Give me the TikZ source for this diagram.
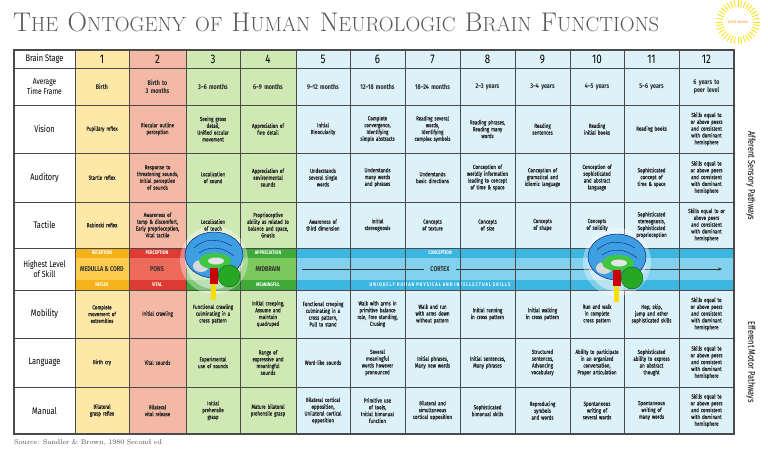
\documentclass[tikz,border=0pt]{standalone}
\usepackage{fontspec}
\setmainfont{Fira Sans}[FakeStretch=0.78]
\newfontfamily\cellfont{Fira Sans}[FakeStretch=0.76, FakeBold=0.5]
\newfontfamily\titlefont{Latin Modern Roman}
\usetikzlibrary{arrows.meta}

\definecolor{cYel}{HTML}{FDE8A8}
\definecolor{cSal}{HTML}{F3B9A5}
\definecolor{cGrn}{HTML}{CFE8B4}
\definecolor{cBlu}{HTML}{DDF1F8}
\definecolor{bOrD}{HTML}{F6B21B}
\definecolor{bOrL}{HTML}{FDCB4E}
\definecolor{bReD}{HTML}{DE3B34}
\definecolor{bReL}{HTML}{EE6A5A}
\definecolor{bGrD}{HTML}{3FAA3A}
\definecolor{bGrL}{HTML}{7CC85C}
\definecolor{bBlD}{HTML}{3CB6E0}
\definecolor{bBlL}{HTML}{82D2EF}
\definecolor{gridc}{HTML}{4A4A4A}
\definecolor{brBlue}{HTML}{3D9FE0}

\tikzset{
  cell/.style={align=center, font=\cellfont\fontsize{5.9}{6.8}\selectfont, text=black!85, text width=#1, inner sep=0pt},
  cell/.default=52pt,
  rowlab/.style={align=center, font=\fontsize{9.5}{10.5}\selectfont, inner sep=0pt},
  band/.style={font=\fontsize{5.2}{5.5}\selectfont\bfseries, text=white, inner sep=0pt},
  bandmid/.style={font=\fontsize{7}{7.5}\selectfont\bfseries, text=black!80, inner sep=0pt},
  gridline/.style={draw=gridc, line width=0.8pt}
}

\def\xs{{14,75,129,186,240,296,350,405,460,515,570,624,679,734}}
\def\xmid{{44.5,102,157.5,213,268,323,377.5,432.5,487.5,542.5,597,651.5,706.5}}
\def\ys{{50,68,105,153,202,248,290,338,387,434}}

% title word: big initial, small capitals after it
\newcommand\tw[2]{{\fontsize{27}{27}\selectfont #1}{\fontsize{20.5}{20.5}\selectfont #2}\hspace{6pt}}

% brain sketch at a centre point
\newcommand\brainpic[2]{%
  \begin{scope}[shift={(#1,#2)}]
    \fill[white, opacity=0.35] (0,4) circle (34);
    \fill[white, opacity=0.45] (0,4) circle (29);
    \fill[yellow!80!orange] (-3,26) rectangle (2,44);
    \fill[red!80!black] (-4,14) rectangle (4,28);
    \fill[brBlue, draw=blue!50!black, line width=0.4pt] (0,-1) ellipse (29 and 23);
    \fill[gray!30] (-13,10) ellipse (8 and 6);
    \fill[green!70!black!75] (1,5) ellipse (16 and 8);
    \fill[gray!20] (2,5) ellipse (8 and 3.5);
    \fill[red!80!black] (-4,12) rectangle (4,24);
    \fill[green!60!black!85, draw=green!30!black, line width=0.3pt] (15,20) circle (11);
    \draw[blue!50!black, line width=0.3pt] (-20,-8) .. controls (-10,-18) and (5,-18) .. (18,-10)
      (-15,-3) .. controls (-5,-10) and (8,-10) .. (20,0);
  \end{scope}}

\begin{document}
\begin{tikzpicture}[x=1pt,y=-1pt]
\useasboundingbox (0,0) rectangle (768,466);
\fill[white] (0,0) rectangle (768,466);

% title and logo
\node[anchor=west, text=black!65, inner sep=0pt, font=\titlefont] (title) at (13,22)
  {\tw{T}{HE} \tw{O}{NTOGENY} \tw{}{OF} \tw{H}{UMAN} \tw{N}{EUROLOGIC} \tw{B}{RAIN} \tw{F}{UNCTIONS}};
\foreach \a in {0,10,...,350}
  \draw[yellow!85!orange, line width=0.8pt] (738,22) ++(\a:15) -- ++(\a:7);
\fill[white] (738,22) circle (14);
\node[font=\fontsize{3.5}{4}\selectfont, text=orange] (logo) at (738,22) {ACTIVE HEALING};

% column fills
\foreach \c/\col in {1/cYel,2/cSal,3/cGrn,4/cGrn,5/cBlu,6/cBlu,7/cBlu,8/cBlu,9/cBlu,10/cBlu,11/cBlu,12/cBlu} {
  \pgfmathsetmacro\xa{\xs[\c]}
  \pgfmathtruncatemacro\cn{\c+1}
  \pgfmathsetmacro\xb{\xs[\cn]}
  \fill[\col] (\xa,50) rectangle (\xb,434);
}

% highest level row bands
\fill[bOrD] (75,248) rectangle (129,290);  \fill[bOrL] (75,258) rectangle (129,280);
\fill[bReD] (129,248) rectangle (186,290); \fill[bReL] (129,258) rectangle (186,280);
\fill[bGrD] (186,248) rectangle (296,290); \fill[bGrL] (186,258) rectangle (296,280);
\fill[bBlD] (296,248) rectangle (734,290); \fill[bBlL] (296,258) rectangle (734,280);
\fill[white] (14,248) rectangle (75,290);

\node[band] (rec) at (102,253) {RECEPTION};
\node[bandmid] (med) at (102,269) {MEDULLA \& CORD};
\node[band] (rfx) at (102,285) {REFLEX};
\node[band] (per) at (157,253) {PERCEPTION};
\node[bandmid] (pons) at (157,269) {PONS};
\node[band] (vit) at (157,285) {VITAL};
\node[band] (app) at (268,253) {APPRECIATION};
\node[bandmid] (mid) at (268,269) {MIDBRAIN};
\node[band] (mea) at (268,285) {MEANINGFUL};
\node[band] (con) at (440,253) {CONCEPTION};
\node[bandmid] (ctx) at (440,269) {CORTEX};
\node[band] (uniq) at (440,285) {U N I Q U E L Y\ \ H U M A N\ \ P H Y S I C A L\ \ A N D\ \ I N T E L L E C T U A L\ \ S K I L L S};
\coordinate (cxl) at (302,269);
\coordinate (cxr) at (722,269);
\draw[black!80, line width=0.5pt] (cxl) -- ([xshift=-6pt]ctx.west);
\draw[black!80, line width=0.5pt, -{Stealth[length=4pt]}] ([xshift=6pt]ctx.east) -- (cxr);

% grid
\foreach \i in {0,...,9} {
  \pgfmathsetmacro\yy{\ys[\i]}
  \draw[gridline] (14,\yy) -- (734,\yy);
}
\foreach \i in {0,...,13} {
  \pgfmathsetmacro\xx{\xs[\i]}
  \draw[gridline] (\xx,50) -- (\xx,434);
}
\draw[draw=gridc, line width=1.2pt] (14,50) rectangle (734,434);

% brains
\brainpic{214}{256}
\brainpic{617}{258}

% row labels
\node[rowlab] (lstage) at (44.5,59) {Brain Stage};
\node[rowlab, font=\fontsize{8.5}{9.5}\selectfont] (ltime) at (44.5,86.5) {Average\\Time Frame};
\node[rowlab] (lvis) at (44.5,129) {Vision};
\node[rowlab] (laud) at (44.5,177.5) {Auditory};
\node[rowlab] (ltac) at (44.5,225) {Tactile};
\node[rowlab, font=\fontsize{9}{10.5}\selectfont] (lhigh) at (44.5,269) {Highest Level\\of Skill};
\node[rowlab] (lmob) at (44.5,314) {Mobility};
\node[rowlab] (llan) at (44.5,362.5) {Language};
\node[rowlab] (lman) at (44.5,410.5) {Manual};

% stage numbers
\foreach \c in {1,...,12} {
  \pgfmathsetmacro\xm{\xmid[\c]}
  \node[font=\fontsize{12.5}{12.5}\selectfont] (num\c) at (\xm,59) {\c};
}

% time frame
\foreach \c/\t in {1/{Birth},2/{Birth to\\3 months},3/{3--6 months},4/{6--9 months},5/{9--12 months},6/{12--18 months},7/{18--24 months},8/{2--3 years},9/{3--4 years},10/{4--5 years},11/{5--6 years},12/{6 years to\\peer level}} {
  \pgfmathsetmacro\xm{\xmid[\c]}
  \node[cell, font=\fontsize{6.9}{8}\selectfont\bfseries] (time\c) at (\xm,86.5) {\t};
}

% vision
\foreach \c/\t in {1/{Pupillary reflex},2/{Biocular outline\\perception},3/{Seeing gross\\detail,\\Unified occular\\movement},4/{Appreciation of\\fine detail},5/{Initial\\Binocularity},6/{Complete\\convergence,\\Identifying\\simple abstracts},7/{Reading several\\words,\\Identifying\\complex symbols},8/{Reading phrases,\\Reading many\\words},9/{Reading\\sentences},10/{Reading\\initial books},11/{Reading books},12/{Skills equal to\\or above peers\\and consistent\\with dominant\\hemisphere}} {
  \pgfmathsetmacro\xm{\xmid[\c]}
  \node[cell] (vis\c) at (\xm,129) {\t};
}

% auditory
\foreach \c/\t in {1/{Startle reflex},2/{Response to\\threatening sounds,\\Initial perception\\of sounds},3/{Localization\\of sound},4/{Appreciation of\\environmental\\sounds},5/{Understands\\several single\\words},6/{Understands\\many words\\and phrases},7/{Understands\\basic directions},8/{Conception of\\worldly information\\leading to concept\\of time \& space},9/{Conception of\\gramatical and\\idiomic language},10/{Conception of\\sophisticated\\and abstract\\language},11/{Sophisticated\\concept of\\time \& space},12/{Skills equal to\\or above peers\\and consistent\\with dominant\\hemisphere}} {
  \pgfmathsetmacro\xm{\xmid[\c]}
  \node[cell] (aud\c) at (\xm,177.5) {\t};
}

% tactile
\foreach \c/\t in {1/{Babinski reflex},2/{Awareness of\\temp \& discomfort,\\Early proprioception,\\Vital tactile},3/{Localization\\of touch},4/{Proprioceptive\\ability as related to\\balance and space,\\Gnosis},5/{Awareness of\\third dimension},6/{Initial\\stereognosis},7/{Concepts\\of texture},8/{Concepts\\of size},9/{Concepts\\of shape},10/{Concepts\\of solidity},11/{Sophisticated\\stereognosis,\\Sophisticated\\proprioception},12/{Skills equal to or\\above peers\\and consistent\\with dominant\\hemisphere}} {
  \pgfmathsetmacro\xm{\xmid[\c]}
  \node[cell] (tac\c) at (\xm,225) {\t};
}

% mobility
\foreach \c/\t in {1/{Complete\\movement of\\extremities},2/{Initial crawling},3/{Functional crawling\\culminating in a\\cross pattern},4/{Initial creeping,\\Assume and\\maintain\\quadruped},5/{Functional creeping\\culminating in a\\cross pattern,\\Pull to stand},6/{Walk with arms in\\primitive balance\\role, Free standing,\\Crusing},7/{Walk and run\\with arms down\\without pattern},8/{Initial running\\in cross pattern},9/{Initial walking\\in cross pattern},10/{Run and walk\\in complete\\cross pattern},11/{Hop, skip,\\jump and other\\sophisticated skills},12/{Skills equal to\\or above peers\\and consistent\\with dominant\\hemisphere}} {
  \pgfmathsetmacro\xm{\xmid[\c]}
  \node[cell] (mob\c) at (\xm,314) {\t};
}

% language
\foreach \c/\t in {1/{Birth cry},2/{Vital sounds},3/{Experimental\\use of sounds},4/{Range of\\expressive and\\meaningful\\sounds},5/{Word-like sounds},6/{Several\\meaningful\\words however\\pronounced},7/{Initial phrases,\\Many new words},8/{Initial sentences,\\Many phrases},9/{Structured\\sentences,\\Advancing\\vocabulary},10/{Ability to participate\\in an organized\\conversation,\\Proper articulation},11/{Sophisticated\\ability to express\\an abstract\\thought},12/{Skills equal to\\or above peers\\and consistent\\with dominant\\hemisphere}} {
  \pgfmathsetmacro\xm{\xmid[\c]}
  \node[cell] (lan\c) at (\xm,362.5) {\t};
}

% manual
\foreach \c/\t in {1/{Bilateral\\grasp reflex},2/{Bilateral\\vital release},3/{Initial\\prehensile\\grasp},4/{Mature bilateral\\prehensile grasp},5/{Bilateral cortical\\opposition,\\Unilateral cortical\\opposition},6/{Primitive use\\of tools,\\Initial bimanual\\function},7/{Bilateral and\\simultaneous\\cortical opposition},8/{Sophisticated\\bimanual skills},9/{Reproducing\\symbols\\and words},10/{Spontaneous\\writing of\\several words},11/{Spontaneous\\writing of\\many words},12/{Skills equal to\\or above peers\\and consistent\\with dominant\\hemisphere}} {
  \pgfmathsetmacro\xm{\xmid[\c]}
  \node[cell] (man\c) at (\xm,410.5) {\t};
}

% side labels and source
\node[rotate=-90, font=\fontsize{9.5}{9.5}\selectfont] (aff) at (751,176) {Afferent Sensory Pathways};
\node[rotate=-90, font=\fontsize{9.5}{9.5}\selectfont] (eff) at (751,362) {Efferent Motor Pathways};
\node[anchor=west, inner sep=0pt, text=black!70, font=\titlefont\fontsize{7}{7}\selectfont] (src) at (14,443) {Source: Sandler \& Brown, 1980 Second ed.};
\end{tikzpicture}
\end{document}
